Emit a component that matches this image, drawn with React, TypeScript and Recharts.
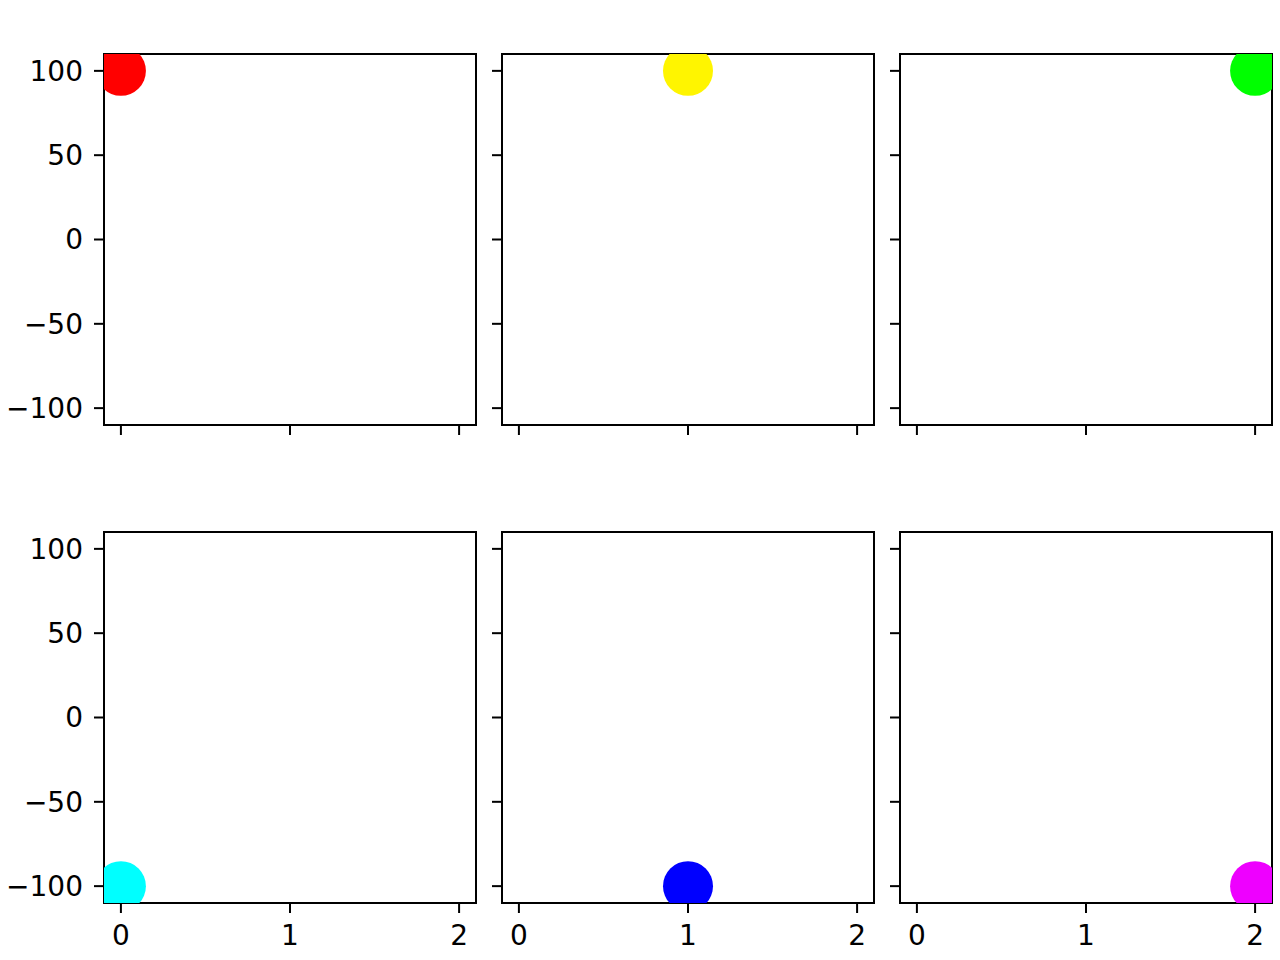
import React from 'react';
import {
  ScatterChart,
  Scatter,
  XAxis,
  YAxis,
  ReferenceArea,
} from 'recharts';

// values
const xValues = [0, 1, 2, 0, 1, 2];
const yValues = [100, 100, 100, -100, -100, -100];
const dotColors = ['#ff0000', '#fff500', '#00ff00', '#00ffff', '#0000ff', '#ee00ff'];
const xTicks = [0, 1, 2];
const yTicks = [-100, -50, 0, 50, 100];
const xDomain: [number, number] = [-0.1, 2.1];
const yDomain: [number, number] = [-110, 110];

// plot-area boxes in page pixels
const colLeft = [104, 502, 900];
const rowTop = [54, 532];
const plotW = 372;
const plotH = 371;

const fmt = (v: number) => (v < 0 ? '\u2212' + Math.abs(v) : String(v));
const tickFont = { fill: '#000', fontSize: 28, fontFamily: 'DejaVu Sans' };
const black = { stroke: '#000', strokeWidth: 2 };

const LEFT = 104;
const TOP = 10;
const BOTTOM = 54;
const RIGHT = 8;

const Panel: React.FC<{ idx: number }> = ({ idx }) => {
  const col = idx % 3;
  const row = Math.floor(idx / 3);
  const showY = col === 0;
  const showX = row === 1;
  const data = [{ x: xValues[idx], y: yValues[idx] }];
  const color = dotColors[idx];

  return (
    <div
      style={{
        position: 'absolute',
        left: colLeft[col] - LEFT,
        top: rowTop[row] - TOP,
      }}
    >
      <ScatterChart
        width={plotW + LEFT + RIGHT}
        height={plotH + TOP + BOTTOM}
        margin={{ top: TOP, right: RIGHT, left: 0, bottom: 0 }}
      >
        <XAxis
          type="number"
          dataKey="x"
          domain={xDomain}
          ticks={xTicks}
          allowDataOverflow
          height={BOTTOM}
          axisLine={black}
          tickLine={black}
          tickSize={10}
          tickMargin={12}
          tick={tickFont}
          tickFormatter={(v: number) => (showX ? fmt(v) : '')}
        />
        <YAxis
          type="number"
          dataKey="y"
          domain={yDomain}
          ticks={yTicks}
          allowDataOverflow
          width={LEFT}
          axisLine={black}
          tickLine={black}
          tickSize={10}
          tickMargin={11}
          tick={tickFont}
          tickFormatter={(v: number) => (showY ? fmt(v) : '')}
        />
        <Scatter
          data={data}
          isAnimationActive={false}
          shape={(p: any) => <circle cx={p.cx} cy={p.cy} r={25} fill={color} />}
        />
        <ReferenceArea
          x1={xDomain[0]}
          x2={xDomain[1]}
          y1={yDomain[0]}
          y2={yDomain[1]}
          fill="none"
          fillOpacity={0}
          stroke="#000"
          strokeWidth={2}
          strokeOpacity={1}
        />
      </ScatterChart>
    </div>
  );
};

export default function App() {
  return (
    <div
      style={{
        position: 'absolute',
        left: 0,
        top: 0,
        width: 1280,
        height: 960,
        background: '#fff',
      }}
    >
      {xValues.map((_, i) => (
        <Panel key={i} idx={i} />
      ))}
    </div>
  );
}
